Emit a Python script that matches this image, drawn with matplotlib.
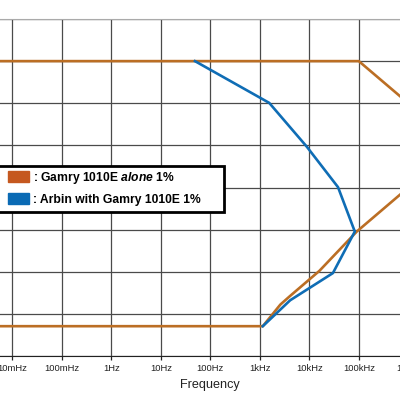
import matplotlib
matplotlib.use("Agg")
import matplotlib.pyplot as plt
from matplotlib.patches import Patch, Rectangle
from matplotlib.ticker import FixedLocator, NullLocator

# Accuracy contour data (frequency in Hz, impedance in ohm)
gamry_freq = [1e-3, 1e5, 1e7, 9.1e4, 1.6e4, 4.0e3, 2.6e3, 1.15e3, 1e-3]
gamry_z = [1e4, 1e4, 1e2, 0.9, 0.105, 0.026, 0.0166, 0.0051, 0.0051]

arbin_freq = [49, 1.55e3, 8.9e3, 3.8e4, 8.3e4, 3.0e4, 4.1e3, 1.15e3]
arbin_z = [1e4, 1020, 93, 10.2, 0.9, 0.093, 0.021, 0.0051]

# 1mHz and 10MHz sit outside the cropped picture, so they get no label
freq_ticks = [1e-3, 1e-2, 1e-1, 1, 10, 100, 1e3, 1e4, 1e5, 1e6, 1e7]
freq_labels = ["", "10mHz", "100mHz", "1Hz", "10Hz", "100Hz",
               "1kHz", "10kHz", "100kHz", "1MHz", ""]
z_ticks = [1e-3, 1e-2, 1e-1, 1, 10, 100, 1e3, 1e4, 1e5]

legend_labels = [": Gamry 1010E $alone$ 1%", ": Arbin with Gamry 1010E 1%"]

plt.rcParams['font.family'] = ['Liberation Sans', 'DejaVu Sans']
plt.rcParams['mathtext.fontset'] = 'custom'
plt.rcParams['mathtext.it'] = 'Liberation Sans:italic:bold'
plt.rcParams['mathtext.rm'] = 'Liberation Sans:bold'

orange = '#BB6E24'
blue = '#0F6DB5'

fig = plt.figure(figsize=(4, 4), dpi=100)
# the picture is a crop: the axes reach past the left and right edges
ax = fig.add_axes([-37.2 / 400, 0.11, 495 / 400, 0.8425])

ax.plot(gamry_freq, gamry_z, color=orange, linewidth=1.9, zorder=3)
ax.plot(arbin_freq, arbin_z, color=blue, linewidth=1.9, zorder=4)

ax.set_xscale('log')
ax.set_yscale('log')
ax.set_xlim(1e-3, 1e7)
ax.set_ylim(1e-3, 1e5)

ax.xaxis.set_major_locator(FixedLocator(freq_ticks))
ax.set_xticklabels(freq_labels)
ax.xaxis.set_minor_locator(NullLocator())
ax.yaxis.set_major_locator(FixedLocator(z_ticks))
ax.yaxis.set_minor_locator(NullLocator())
ax.tick_params(axis='x', direction='out', length=3, width=0.9, pad=3,
               labelsize=6.8, colors='#222222')
ax.tick_params(axis='y', length=0, labelleft=False)

ax.grid(True, which='major', color='#4a4a4a', linewidth=0.9)
ax.set_axisbelow(True)
ax.spines['top'].set_color('#aaaaaa')
ax.spines['bottom'].set_color('#222222')

ax.set_xlabel('Frequency', fontsize=9.1, color='#222222', labelpad=4)

# legend box (its left side runs past the edge)
box = Rectangle((-14 / 400, 1 - 212 / 400), 238 / 400, 46 / 400,
                transform=fig.transFigure, facecolor='white',
                edgecolor='black', linewidth=2, zorder=4)
fig.patches.append(box)

handles = [Patch(facecolor='#C5581F', edgecolor='#C5581F'),
           Patch(facecolor='#0A6AB4', edgecolor='#0A6AB4')]
leg = fig.legend(handles, legend_labels, loc='upper left',
                 bbox_to_anchor=(8 / 400, 1 - 170 / 400),
                 frameon=False, borderpad=0, borderaxespad=0,
                 handlelength=1.7, handleheight=1.0, handletextpad=0.4,
                 labelspacing=0.6, prop={'size': 8.7, 'weight': 'bold'})
leg.set_zorder(5)

fig.savefig('out.png', dpi=100)
